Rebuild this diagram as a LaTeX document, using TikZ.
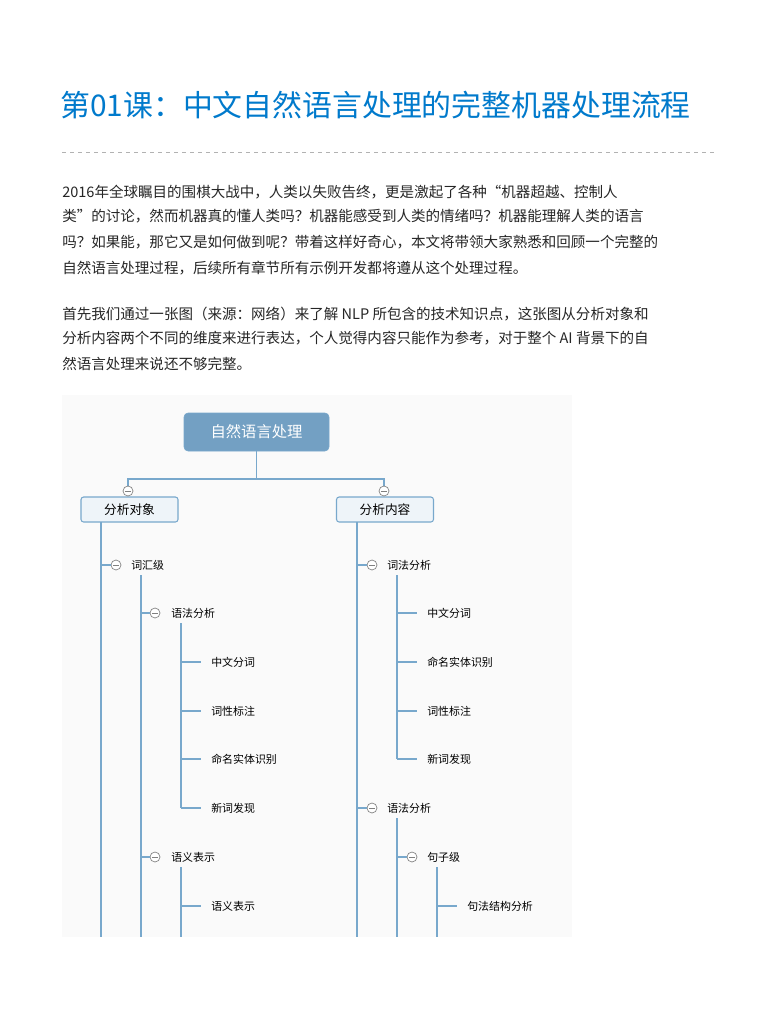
\documentclass[tikz,border=0pt]{standalone}
\usepackage{fontspec}
\setmainfont{Noto Sans CJK SC}
\begin{document}
\begin{tikzpicture}[x=0.75pt,y=-0.75pt,
  para/.style={anchor=west,inner sep=0pt,font=\fontsize{10.9}{12}\selectfont,text=black!85},
  leaf/.style={anchor=west,inner sep=0pt,font=\fontsize{8.2}{10}\selectfont},
  ln/.style={draw=lnc,line width=0.8pt},
  tog/.style={circle,draw=gray,fill=white,minimum size=7.5pt,inner sep=0pt,line width=0.5pt,
     path picture={\draw[gray,line width=0.5pt] ([xshift=-2pt]path picture bounding box.center)--([xshift=2pt]path picture bounding box.center);}},
  sub/.style={draw=lnc,fill=subf,rounded corners=2pt,minimum width=97*0.75pt,minimum height=25*0.75pt,inner sep=0pt,font=\fontsize{9.5}{11}\selectfont,line width=0.8pt}]
\definecolor{ttl}{RGB}{0,122,204}
\definecolor{lnc}{RGB}{120,168,204}
\definecolor{subf}{RGB}{238,244,249}
\definecolor{rootf}{RGB}{115,160,195}
\useasboundingbox (0,0) rectangle (768,1024);
\fill[white] (0,0) rectangle (768,1024);
\node[anchor=west,inner sep=0pt,text=ttl,font=\fontsize{22.4}{25}\selectfont] (title) at (60,105) {第01课：中文自然语言处理的完整机器处理流程};
\draw[black!30,dashed] (62,152) -- (715,152);
\node[para] (p1) at (62,192) {2016年全球瞩目的围棋大战中，人类以失败告终，更是激起了各种“机器超越、控制人};
\node[para] (p2) at (62,216) {类”的讨论，然而机器真的懂人类吗？机器能感受到人类的情绪吗？机器能理解人类的语言};
\node[para] (p3) at (62,242) {吗？如果能，那它又是如何做到呢？带着这样好奇心，本文将带领大家熟悉和回顾一个完整的};
\node[para] (p4) at (62,268) {自然语言处理过程，后续所有章节所有示例开发都将遵从这个处理过程。};
\node[para] (q1) at (62,314) {首先我们通过一张图（来源：网络）来了解 NLP 所包含的技术知识点，这张图从分析对象和};
\node[para] (q2) at (62,338) {分析内容两个不同的维度来进行表达，个人觉得内容只能作为参考，对于整个 AI 背景下的自};
\node[para] (q3) at (62,364) {然语言处理来说还不够完整。};
% diagram
\fill[black!2] (62,395) rectangle (572,937);
\node[fill=rootf,draw=lnc,rounded corners=3pt,minimum width=145*0.75pt,minimum height=38*0.75pt,text=white,font=\fontsize{11.5}{13}\selectfont] (root) at (256.5,432) {自然语言处理};
\node[sub] (L) at (129.5,509.5) {分析对象};
\node[sub] (R) at (385,509.5) {分析内容};
\coordinate (j) at (256.5,479);
\draw[ln] (root.south) -- (j);
\draw[ln] (128,487) -- (128,479) -- (384,479) -- (384,487);
\node[tog] (tL) at (128,491) {};
\node[tog] (tR) at (384,491) {};
% left
\coordinate (Lb) at (101,937);
\draw[ln] (101,522) -- (Lb);
\node[tog] (t1) at (116,565) {}; \node[leaf] (n1) at (131,565) {词汇级};
\draw[ln] (101,565) -- (t1.west);
\draw[ln] (141,575) -- (141,937);
\node[tog] (t2) at (155,613) {}; \node[leaf] (n2) at (171,613) {语法分析};
\draw[ln] (141,613) -- (t2.west);
\draw[ln] (181,623) -- (181,808);
\foreach \y/\t/\n in {662/中文分词/a1,711/词性标注/a2,759/命名实体识别/a3,808/新词发现/a4}{
  \node[leaf] (\n) at (211,\y) {\t}; \draw[ln] (181,\y) -- (201,\y);}
\node[tog] (t3) at (155,857) {}; \node[leaf] (n3) at (171,857) {语义表示};
\draw[ln] (141,857) -- (t3.west);
\draw[ln] (181,867) -- (181,937);
\node[leaf] (b1) at (211,906) {语义表示}; \draw[ln] (181,906) -- (201,906);
% right
\draw[ln] (357,522) -- (357,937);
\node[tog] (t4) at (372,565) {}; \node[leaf] (n4) at (387,565) {词法分析};
\draw[ln] (357,565) -- (t4.west);
\draw[ln] (397,575) -- (397,759);
\foreach \y/\t/\n in {613/中文分词/c1,662/命名实体识别/c2,711/词性标注/c3,759/新词发现/c4}{
  \node[leaf] (\n) at (427,\y) {\t}; \draw[ln] (397,\y) -- (417,\y);}
\node[tog] (t5) at (372,808) {}; \node[leaf] (n5) at (387,808) {语法分析};
\draw[ln] (357,808) -- (t5.west);
\draw[ln] (397,818) -- (397,937);
\node[tog] (t6) at (412,857) {}; \node[leaf] (n6) at (427,857) {句子级};
\draw[ln] (397,857) -- (t6.west);
\draw[ln] (437,867) -- (437,937);
\node[leaf] (d1) at (467,906) {句法结构分析}; \draw[ln] (437,906) -- (457,906);
\end{tikzpicture}
\end{document}
